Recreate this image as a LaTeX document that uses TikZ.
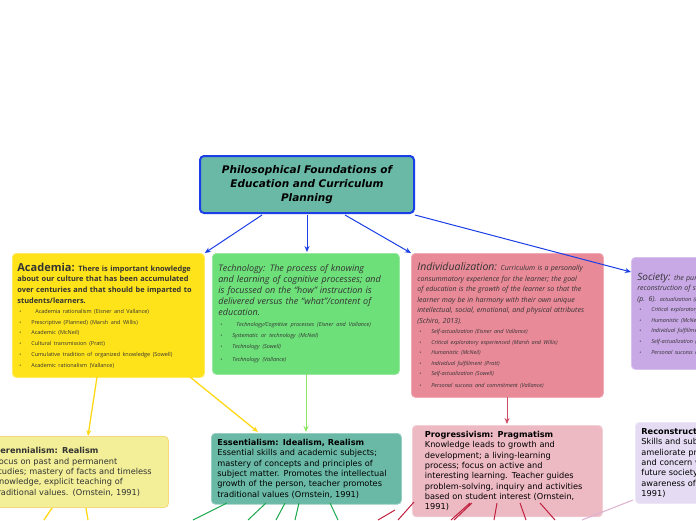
\documentclass[tikz,border=0pt]{standalone}
\usepackage{fontspec}
\setmainfont{Open Sans}
\newfontfamily\dvs{DejaVu Sans}
\usetikzlibrary{arrows.meta}
\hyphenpenalty=10000
\exhyphenpenalty=10000
\definecolor{teal1}{HTML}{6AB9A6}
\definecolor{yel}{HTML}{FFE31A}
\definecolor{grn}{HTML}{6EE07A}
\definecolor{pnk}{HTML}{E98A98}
\definecolor{pur}{HTML}{C9A8E6}
\definecolor{lyel}{HTML}{F3EF98}
\definecolor{lpnk}{HTML}{EDB9C3}
\definecolor{lpur}{HTML}{E5DCF3}
\definecolor{blu}{HTML}{1A3FE6}
\definecolor{dgrn}{HTML}{1AA84E}
\definecolor{dred}{HTML}{C0213F}
\definecolor{txt}{HTML}{333333}
\tikzset{x=1pt,y=-1pt,
 box/.style={draw=#1!70!white, line width=0.8pt, rounded corners=4pt, anchor=north west, align=left, inner sep=6pt, text=txt}}
\newcommand{\bi}[1]{\par\hspace*{2pt}{\fontsize{5}{8}\selectfont\textbullet}\hspace{10pt}#1}
\begin{document}
\begin{tikzpicture}
\useasboundingbox (0,0) rectangle (696,520);
\clip (0,0) rectangle (696,520);
\fill[white] (0,0) rectangle (696,520);
% root
\node[box=blu, draw=blu, line width=2pt, fill=teal1, minimum width=214pt, minimum height=57pt, align=center, anchor=center, text=black, font=\dvs\bfseries\itshape\fontsize{10.5}{14}\selectfont] (root) at (307,184.5) {Philosophical Foundations of\\Education and Curriculum\\Planning};
% academia
\node[box=yel, fill=yel, text width=182pt, minimum height=124pt, inner xsep=5pt, font=\fontsize{7.4}{11}\selectfont\bfseries] (acad) at (12,253) {{\fontsize{11}{13}\selectfont Academia:} There is important knowledge about our culture that has been accumulated over centuries and that should be imparted to students/learners.
{\mdseries\fontsize{5.5}{10.6}\selectfont
\bi{\hspace{4pt}Academia rationalism (Eisner and Vallance)}
\bi{Prescriptive (Planned) (Marsh and Willis)}
\bi{Academic (McNeil)}
\bi{Cultural transmission (Pratt)}
\bi{Cumulative tradition of organized knowledge (Sowell)}
\bi{Academic rationalism (Vallance)}}};
% technology
\node[box=grn, fill=grn, text width=175pt, minimum height=121pt, font=\fontsize{9}{13.5}\selectfont\itshape] (tech) at (212,253) {Technology: The process of knowing and learning of cognitive processes; and is focussed on the ``how'' instruction is delivered versus the ``what''/content of education.
{\fontsize{5.5}{11}\selectfont
\bi{\hspace{4pt}Technology/Cognitive processes (Eisner and Vallance)}
\bi{Systematic or technology (McNeil)}
\bi{Technology (Sowell)}
\bi{Technology (Vallance)}}};
% individualization
\node[box=pnk, fill=pnk, text width=180pt, minimum height=144pt, font=\fontsize{7}{11.4}\selectfont\itshape] (indiv) at (411,253) {{\fontsize{10.5}{13}\selectfont Individualization:} Curriculum is a personally consummatory experience for the learner; the goal of education is the growth of the learner so that the learner may be in harmony with their own unique intellectual, social, emotional, and physical attributes (Schiro, 2013).
{\fontsize{5.5}{10.5}\selectfont
\bi{Self-actualization (Eisner and Vallance)}
\bi{Critical exploratory experienced (Marsh and Willis)}
\bi{Humanistic (McNeil)}
\bi{Individual fulfillment (Pratt)}
\bi{Self-actualization (Sowell)}
\bi{Personal success and commitment (Vallance)}}};
% society
\node[box=pur, fill=pur, text width=179pt, minimum height=112pt, font=\fontsize{7}{11}\selectfont\itshape] (soc) at (631,257) {{\fontsize{10}{13}\selectfont Society:} the purpose of education is the reconstruction of society; offers maximum self-fulfillment (p. 6).
{\fontsize{5.5}{10.5}\selectfont actualization (Eisner and Vallance)
\bi{Critical exploratory experienced}
\bi{Humanistic (McNeil)}
\bi{Individual fulfillment (Pratt)}
\bi{Self-actualization (Sowell)}
\bi{Personal success and commitment}}};
% bottom
\tikzset{bt/.style={box=#1, font=\dvs\fontsize{8.2}{10.3}\selectfont, inner ysep=6pt}}
\node[bt=lyel, fill=lyel, minimum height=71pt, text width=168pt, draw=lyel!80!orange] (per) at (-12,436) {\textbf{Perennialism: Realism}\\Focus on past and permanent studies; mastery of facts and timeless knowledge, explicit teaching of traditional values. (Ornstein, 1991)};
\node[bt=teal1, fill=teal1, minimum height=69pt, text width=178pt, text=black] (ess) at (211,433) {\textbf{Essentialism: Idealism, Realism}\\Essential skills and academic subjects; mastery of concepts and principles of subject matter. Promotes the intellectual growth of the person, teacher promotes traditional values (Ornstein, 1991)};
\node[bt=lpnk, fill=lpnk, minimum height=77pt, text width=165pt, minimum width=190pt, text=black] (prog) at (412,425) {\textbf{Progressivism: Pragmatism}\\Knowledge leads to growth and development; a living-learning process; focus on active and interesting learning. Teacher guides problem-solving, inquiry and activities based on student interest (Ornstein, 1991)};
\node[bt=lpur, fill=lpur, minimum height=78pt, text width=165pt, text=black] (rec) at (635,422) {\textbf{Reconstructionism}\\Skills and subjects needed to ameliorate problems of society; active and concern with contemporary and future society; students become of awareness of problems (Ornstein, 1991)};
% connectors
\tikzset{bl/.style={-{Stealth[length=6pt,width=5pt]}, draw=blu, line width=1pt}}
\draw[bl] (262,215) -- (acad.north east);
\draw[bl] (307,215) -- (307,252);
\draw[bl] (345,215) -- (indiv.north west);
\draw[bl] (415,215) -- (631,272);
\tikzset{ya/.style={-{Stealth[length=6pt,width=5pt]}, draw=yel!90!orange, line width=1.3pt}}
\draw[ya] (97,377) -- (88,436);
\draw[ya] (190,377) -- (258,432);
\draw[-{Stealth[length=6pt,width=5pt]}, draw=grn!80!yellow, line width=1pt] (306,374) -- (306,432);
\draw[-{Stealth[length=6pt,width=5pt]}, draw=dred!80!white, line width=1pt] (507,397) -- (507,424);
% outgoing lines
\draw[yel!90!orange, line width=1.3pt] (52,508) -- (44,520) (86,508) -- (88,520);
\draw[dgrn, line width=1pt] (227,503) -- (193,520) (266,503) -- (248,520) (285,503) -- (276,520) (299,503) -- (295,520) (330,503) -- (338,520);
\draw[dred, line width=1pt] (378,520) -- (395,510) (414,502) -- (398,520)
 (470,503) -- (451,520) (472,503) -- (454,520) (497,503) -- (494,520) (520,503) -- (526,520) (540,503) -- (555,520);
\draw[lpur!80!purple, line width=1pt] (633,500) -- (582,520);
\end{tikzpicture}
\end{document}
